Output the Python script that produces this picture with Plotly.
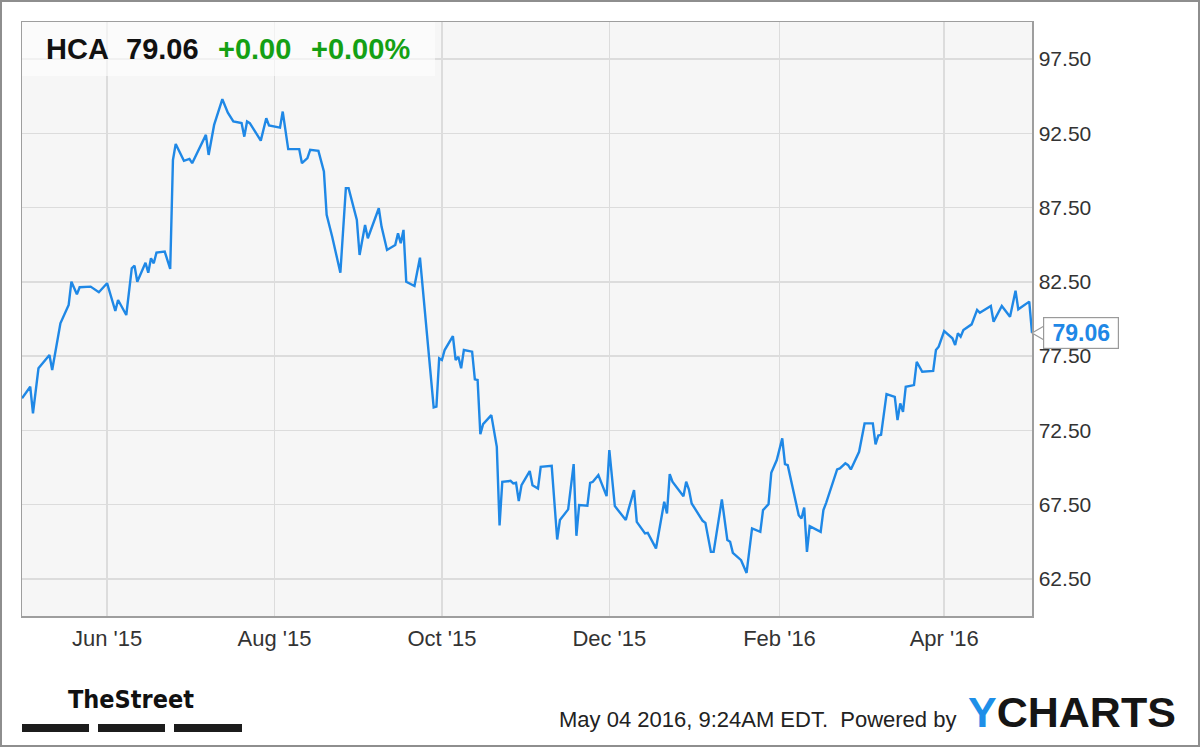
import plotly.graph_objects as go

# ---------------- data ----------------
dates = [
    "2015-05-01", "2015-05-04", "2015-05-05", "2015-05-07", "2015-05-11", "2015-05-12", "2015-05-15",
    "2015-05-16", "2015-05-18", "2015-05-19", "2015-05-21", "2015-05-22", "2015-05-26", "2015-05-29",
    "2015-06-01", "2015-06-04", "2015-06-05", "2015-06-08", "2015-06-10", "2015-06-11", "2015-06-12",
    "2015-06-15", "2015-06-16", "2015-06-17", "2015-06-18", "2015-06-19", "2015-06-22", "2015-06-24",
    "2015-06-25", "2015-06-26", "2015-06-29", "2015-07-01", "2015-07-02", "2015-07-07", "2015-07-08",
    "2015-07-10", "2015-07-13", "2015-07-15", "2015-07-17", "2015-07-20", "2015-07-21", "2015-07-22",
    "2015-07-23", "2015-07-27", "2015-07-29", "2015-07-30", "2015-08-03", "2015-08-04", "2015-08-06",
    "2015-08-10", "2015-08-11", "2015-08-13", "2015-08-14", "2015-08-17", "2015-08-19", "2015-08-20",
    "2015-08-22", "2015-08-25", "2015-08-27", "2015-08-28", "2015-08-31", "2015-09-01", "2015-09-03",
    "2015-09-04", "2015-09-08", "2015-09-09", "2015-09-11", "2015-09-14", "2015-09-15", "2015-09-16",
    "2015-09-17", "2015-09-18", "2015-09-21", "2015-09-23", "2015-09-25", "2015-09-28", "2015-09-29",
    "2015-09-30", "2015-10-01", "2015-10-02", "2015-10-05", "2015-10-06", "2015-10-07", "2015-10-08",
    "2015-10-09", "2015-10-12", "2015-10-13", "2015-10-14", "2015-10-15", "2015-10-16", "2015-10-19",
    "2015-10-21", "2015-10-22", "2015-10-23", "2015-10-26", "2015-10-27", "2015-10-28", "2015-10-29",
    "2015-10-30", "2015-11-02", "2015-11-03", "2015-11-05", "2015-11-06", "2015-11-10", "2015-11-12",
    "2015-11-13", "2015-11-16", "2015-11-18", "2015-11-19", "2015-11-20", "2015-11-23", "2015-11-24",
    "2015-11-25", "2015-11-27", "2015-11-30", "2015-12-01", "2015-12-03", "2015-12-07", "2015-12-08",
    "2015-12-10", "2015-12-11", "2015-12-14", "2015-12-15", "2015-12-18", "2015-12-21", "2015-12-22",
    "2015-12-23", "2015-12-24", "2015-12-28", "2015-12-29", "2015-12-30", "2015-12-31", "2016-01-04",
    "2016-01-05", "2016-01-07", "2016-01-08", "2016-01-11", "2016-01-13", "2016-01-14", "2016-01-15",
    "2016-01-18", "2016-01-20", "2016-01-22", "2016-01-25", "2016-01-26", "2016-01-28", "2016-01-29",
    "2016-01-31", "2016-02-02", "2016-02-03", "2016-02-04", "2016-02-08", "2016-02-09", "2016-02-10",
    "2016-02-11", "2016-02-12", "2016-02-16", "2016-02-17", "2016-02-18", "2016-02-22", "2016-02-23",
    "2016-02-24", "2016-02-25", "2016-02-26", "2016-02-27", "2016-03-01", "2016-03-03", "2016-03-06",
    "2016-03-07", "2016-03-08", "2016-03-09", "2016-03-11", "2016-03-14", "2016-03-15", "2016-03-16",
    "2016-03-17", "2016-03-18", "2016-03-21", "2016-03-22", "2016-03-24", "2016-03-28", "2016-03-29",
    "2016-03-30", "2016-04-01", "2016-04-04", "2016-04-05", "2016-04-06", "2016-04-07", "2016-04-08",
    "2016-04-11", "2016-04-13", "2016-04-14", "2016-04-18", "2016-04-19", "2016-04-20", "2016-04-22",
    "2016-04-25", "2016-04-27", "2016-04-28", "2016-05-02", "2016-05-03",
]
prices = [
    74.66, 75.44, 73.65, 76.68, 77.57, 76.56, 79.71,
    80.15, 80.94, 82.51, 81.66, 82.14, 82.18, 81.80,
    82.41, 80.54, 81.28, 80.27, 83.42, 83.59, 82.51,
    83.79, 83.12, 84.09, 83.75, 84.47, 84.54, 83.37,
    90.71, 91.79, 90.65, 90.78, 90.49, 92.40, 91.05,
    93.07, 94.80, 93.90, 93.30, 93.19, 92.28, 93.30,
    93.19, 92.01, 93.52, 93.03, 92.89, 93.97, 91.44,
    91.44, 90.49, 90.83, 91.39, 91.32, 89.93, 87.01,
    85.55, 83.12, 88.81, 88.81, 86.67, 84.31, 86.33,
    85.44, 87.46, 86.22, 84.65, 84.99, 85.77, 85.10,
    86.00, 82.51, 82.22, 84.13, 80.15, 74.05, 74.10,
    77.35, 77.24, 77.91, 78.85, 77.24, 77.46, 76.68,
    77.91, 77.80, 75.94, 75.89, 72.25, 72.92, 73.53,
    71.39, 66.10, 69.04, 69.10, 68.93, 68.97, 67.74,
    68.81, 69.76, 68.81, 68.59, 70.05, 70.11, 65.15,
    66.46, 67.18, 70.23, 65.40, 67.47, 67.42, 68.97,
    69.04, 69.49, 68.07, 71.17, 67.40, 66.46, 67.18,
    68.48, 66.34, 65.56, 65.60, 64.55, 67.69, 66.91,
    69.56, 69.04, 68.07, 69.04, 68.52, 67.58, 66.41,
    66.27, 64.32, 64.32, 67.85, 65.11, 65.00, 64.25,
    63.76, 62.90, 65.90, 65.67, 67.13, 67.53, 69.64,
    70.50, 71.96, 70.23, 70.16, 66.79, 66.57, 67.31,
    64.32, 66.05, 65.67, 67.13, 67.62, 69.87, 69.94,
    70.09, 70.28, 70.16, 69.87, 71.06, 72.97, 72.97,
    71.56, 72.15, 72.20, 74.95, 74.76, 73.19, 74.32,
    73.75, 75.44, 75.55, 77.12, 76.45, 76.50, 77.91,
    78.13, 79.19, 78.70, 78.25, 79.04, 78.81, 79.26,
    79.64, 80.61, 80.42, 80.88, 79.82, 80.15, 80.88,
    80.15, 81.91, 80.65, 81.17, 79.06,
]

x_tick_dates = ["2015-06-01", "2015-08-01", "2015-10-01", "2015-12-01", "2016-02-01", "2016-04-01"]
x_tick_labels = ["Jun '15", "Aug '15", "Oct '15", "Dec '15", "Feb '16", "Apr '16"]
y_tick_values = [62.5, 67.5, 72.5, 77.5, 82.5, 87.5, 92.5, 97.5]
y_tick_labels = ["62.50", "67.50", "72.50", "77.50", "82.50", "87.50", "92.50", "97.50"]

ticker = "HCA"
last_price = "79.06"
change = "+0.00"
change_pct = "+0.00%"
timestamp = "May 04 2016, 9:24AM EDT.  Powered by"

# ---------------- layout geometry / styles ----------------
W, H = 1200, 747
ML, MR, MT, MB = 22, 168, 22, 131
PW, PH = W - ML - MR, H - MT - MB

def fx(px):
    return (px - ML) / PW

def fy(py):
    return 1 - (py - MT) / PH

LINE_BLUE = "#1f88e6"
GREEN = "#14a014"
FONT = "Liberation Sans, Arial, sans-serif"

fig = go.Figure()
fig.add_trace(go.Scatter(
    x=dates, y=prices, mode="lines",
    line=dict(color=LINE_BLUE, width=2.4),
    hoverinfo="skip", showlegend=False,
))

shapes = []
# semi-transparent header box
shapes.append(dict(type="rect", xref="paper", yref="paper", x0=0, x1=fx(435), y0=fy(76), y1=1,
                   fillcolor="rgba(255,255,255,0.6)", line=dict(width=0), layer="above"))
# outer frame
shapes.append(dict(type="rect", xref="paper", yref="paper",
                   x0=fx(1), x1=fx(W - 1), y0=fy(H - 1), y1=fy(1),
                   line=dict(color="#8e8e8e", width=2), fillcolor="rgba(0,0,0,0)"))
# TheStreet bars
for bx0, bx1 in [(22, 89), (98, 165), (174, 242)]:
    shapes.append(dict(type="rect", xref="paper", yref="paper", x0=fx(bx0), x1=fx(bx1),
                       y0=fy(732), y1=fy(724), fillcolor="#1c1c1c", line=dict(width=0)))
# callout notch
shapes.append(dict(type="path", xref="paper", yref="y", xsizemode="pixel", ysizemode="pixel",
                   xanchor=1, yanchor=prices[-1], path="M 0 0 L 12 7 L 12 -7 Z",
                   fillcolor="white", line=dict(color="#9a9a9a", width=1.2)))

annotations = []
hy = fy(49)
for txt, px, col in [(ticker, 44, "#111"), (last_price, 124, "#111"),
                     (change, 216, GREEN), (change_pct, 309, GREEN)]:
    annotations.append(dict(xref="paper", yref="paper", x=fx(px), y=hy, xanchor="left", yanchor="middle",
                            text=f"<b>{txt}</b>", showarrow=False,
                            font=dict(family=FONT, size=29, color=col)))
# last price callout
annotations.append(dict(xref="paper", yref="y", x=1, y=prices[-1], xanchor="left", yanchor="middle",
                        xshift=11, text=f"<b>{last_price}</b>", showarrow=False,
                        font=dict(family=FONT, size=23, color=LINE_BLUE),
                        bgcolor="white", bordercolor="#9a9a9a", borderwidth=1.2, borderpad=2,
                        width=70, height=26))
# footer
annotations.append(dict(xref="paper", yref="paper", x=fx(131), y=fy(699), xanchor="center", yanchor="middle",
                        text="<b>TheStreet</b>", showarrow=False,
                        font=dict(family="DejaVu Sans Condensed, Liberation Sans, sans-serif", size=25, color="#111")))
annotations.append(dict(xref="paper", yref="paper", x=fx(958), y=fy(719), xanchor="right", yanchor="middle",
                        text=timestamp, showarrow=False,
                        font=dict(family=FONT, size=22, color="#222")))
annotations.append(dict(xref="paper", yref="paper", x=fx(1178), y=fy(712), xanchor="right", yanchor="middle",
                        text="<b><span style='color:#1e8fe8'>Y</span>CHARTS</b>", showarrow=False,
                        font=dict(family=FONT, size=43, color="#151515")))

fig.update_layout(
    width=W, height=H,
    margin=dict(l=ML, r=MR, t=MT, b=MB, pad=0),
    paper_bgcolor="white", plot_bgcolor="#f6f6f6",
    shapes=shapes, annotations=annotations,
    xaxis=dict(
        type="date", range=["2015-05-01", "2016-05-03"],
        tickvals=x_tick_dates, ticktext=x_tick_labels,
        showgrid=True, gridcolor="#dcdcdc", gridwidth=1.5,
        ticks="outside", ticklen=2, tickcolor="rgba(0,0,0,0)",
        tickfont=dict(family=FONT, size=22, color="#333"),
        showline=True, linecolor="#9e9e9e", linewidth=1.5, mirror=True,
        zeroline=False, fixedrange=True,
    ),
    yaxis=dict(
        side="right", range=[60, 100],
        tickvals=y_tick_values, ticktext=y_tick_labels,
        showgrid=True, gridcolor="#dcdcdc", gridwidth=1.5,
        ticks="outside", ticklen=1, tickcolor="rgba(0,0,0,0)",
        tickfont=dict(family=FONT, size=21, color="#333"),
        showline=True, linecolor="#9e9e9e", linewidth=1.5, mirror=True,
        zeroline=False, fixedrange=True,
    ),
)

fig.write_html(
    "out.html",
    config={"displayModeBar": False, "staticPlot": True},
    post_script="document.body.style.margin='0px';document.body.style.overflow='hidden';",
)
